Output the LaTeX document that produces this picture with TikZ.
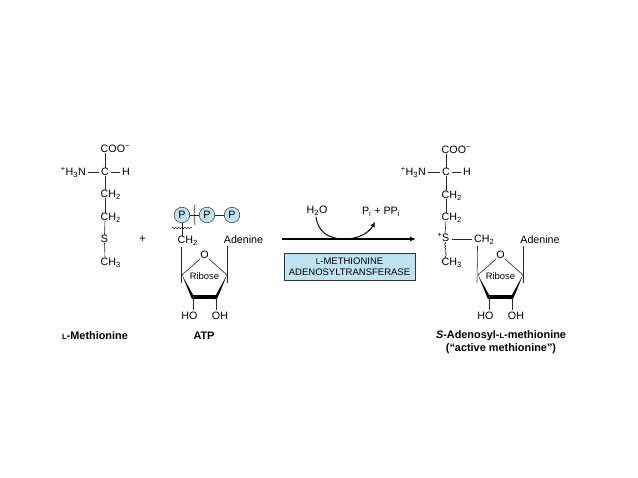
\documentclass[tikz,border=0pt]{standalone}
\usepackage{fontspec}
\setmainfont{Liberation Sans}
\usetikzlibrary{arrows.meta,decorations.pathmorphing}
\definecolor{paleblue}{HTML}{BFE3F3}
\newcommand{\sbs}[1]{\textsubscript{#1}}
\newcommand{\sps}[1]{\textsuperscript{#1}}
\newcommand{\smallL}{{\fontsize{8.3}{9}\selectfont L}}
\newcommand{\smallLb}{{\fontsize{7.6}{9}\selectfont L}}
\tikzset{
  lbl/.style={inner sep=0pt,text height=7.6pt,text depth=0pt,font=\fontsize{10.7}{12}\selectfont},
  lblw/.style={lbl,anchor=west},
  riblbl/.style={inner sep=0pt,font=\fontsize{9.4}{10}\selectfont},
  title/.style={inner sep=0pt,align=center,font=\fontsize{10.9}{12.6}\selectfont\bfseries},
  bond/.style={line width=0.6pt,draw=black!85},
  heavy/.style={fill=black,draw=none},
  phos/.style={circle,draw=black!80,fill=paleblue,line width=0.5pt,minimum size=15.5pt,inner sep=0pt,font=\fontsize{10.7}{12}\selectfont},
  wavy/.style={line width=0.4pt,decorate,decoration={snake,amplitude=0.7pt,segment length=3pt}},
  enz/.style={draw=black!80,fill=paleblue,line width=0.5pt,minimum width=131pt,minimum height=27pt,inner sep=0pt,align=center,font=\fontsize{9.5}{11}\selectfont},
}
% #1 name prefix, #2 x of the left ring vertex
\newcommand{\ribosering}[2]{
  \coordinate (#1l) at (#2,275);
  \coordinate (#1r) at ({#2+45},275);
  \coordinate (#1bl) at ({#2+11},297);
  \coordinate (#1br) at ({#2+34},297);
  \node[lbl] (#1O) at ({#2+22.5},255) {O};
  \node[riblbl] (#1t) at ({#2+22.5},276.5) {Ribose};
  \node[lbl] (#1HO) at ({#2+7.5},316) {HO};
  \node[lbl] (#1OH) at ({#2+38},316) {OH};
  \draw[bond] (#1O) -- (#1l);
  \draw[bond] (#1O) -- (#1r);
  \fill[heavy] (#1l) -- ([xshift=2.5pt,yshift=-2.2pt]#1bl) -- ([xshift=-1pt,yshift=-2.2pt]#1bl) -- cycle;
  \fill[heavy] (#1r) -- ([xshift=-2.5pt,yshift=-2.2pt]#1br) -- ([xshift=1pt,yshift=-2.2pt]#1br) -- cycle;
  \fill[heavy] ([xshift=-1pt,yshift=2.2pt]#1bl) rectangle ([xshift=1pt,yshift=-2.2pt]#1br);
  \draw[bond] (#1bl) -- ([yshift=-13pt]#1bl);
  \draw[bond] (#1br) -- ([yshift=-13pt]#1br);
}
\begin{document}
\begin{tikzpicture}[x=1pt,y=-1pt]
\useasboundingbox[fill=white] (0,0) rectangle (638,478);

% L-methionine
\node[lblw] (acoo) at (100.5,149) {COO\sps{−}};
\node[lbl] (ac) at (105,172) {C};
\node[lbl,anchor=east] (an) at (86,172) {\sps{+}H\sbs{3}N};
\node[lbl] (ah) at (126,172) {H};
\node[lblw] (am1) at (100.5,194) {CH\sbs{2}};
\node[lblw] (am2) at (100.5,217) {CH\sbs{2}};
\node[lbl] (as) at (104.5,239) {S};
\node[lblw] (am3) at (100.5,262) {CH\sbs{3}};
\draw[bond] ([xshift=4.5pt]acoo.south west) -- (ac.north);
\draw[bond] ([xshift=2pt]an.east) -- ([xshift=-1.5pt]ac.west);
\draw[bond] ([xshift=1.5pt]ac.east) -- ([xshift=-1.5pt]ah.west);
\draw[bond] (ac.south) -- ([xshift=4.5pt]am1.north west);
\draw[bond] ([xshift=4.5pt]am1.south west) -- ([xshift=4.5pt]am2.north west);
\draw[bond] ([xshift=4.5pt]am2.south west) -- (as.north);
\draw[bond] (as.south) -- ([xshift=4.5pt]am3.north west);
\node[inner sep=0pt,font=\fontsize{11.5}{13}\selectfont] (plus) at (142.5,239) {+};

% ATP
\node[phos] (p1) at (182,215) {P};
\node[phos] (p2) at (207,215) {P};
\node[phos] (p3) at (232,215) {P};
\draw[bond] (p1) -- (p2);
\draw[bond] (p2) -- (p3);
\node[lblw] (tch) at (177.5,240) {CH\sbs{2}};
\node[lbl] (tad) at (243.5,239.5) {Adenine};
\draw[bond] (p1) -- ([xshift=4.5pt]tch.north west);
\coordinate (cutva) at (194.5,205);
\coordinate (cutvb) at (194.5,225);
\coordinate (cutha) at (172,228);
\coordinate (cuthb) at (192,228);
\draw[wavy] (cutva) -- (cutvb);
\draw[wavy] (cutha) -- (cuthb);
\ribosering{t}{182}
\draw[bond] ([xshift=3.5pt,yshift=-3pt]tch.south west) -- ([xshift=-1pt,yshift=-8pt]tl);
\draw[bond] ([yshift=-3pt]tad.south -| tr) -- ([yshift=-8pt]tr);
\node[title] (tma) at (95,335.5) {\smallLb-Methionine};
\node[title] (tatp) at (204,335.5) {ATP};

% Reaction
\coordinate (rs) at (282,239);
\coordinate (re) at (416,239);
\draw[line width=1.5pt,-{Latex[length=6pt,width=5pt]}] (rs) -- (re);
\node[lbl] (wat) at (317,210) {H\sbs{2}O};
\node[lbl] (prod) at (381,211) {P\sbs{i} + PP\sbs{i}};
\draw[line width=1pt,-{Latex[length=5pt,width=5pt]}] (wat.south) ++(-1,3) .. controls (318,231) and (327,239) .. (345,239) .. controls (358,239) and (369,233) .. (375,222);
\node[enz] (box) at (349.5,266.5) {\smallL-METHIONINE\\ADENOSYLTRANSFERASE};

% S-adenosylmethionine
\node[lblw] (bcoo) at (441.5,150) {COO\sps{−}};
\node[lbl] (bc) at (446,172) {C};
\node[lbl,anchor=east] (bn) at (426,172) {\sps{+}H\sbs{3}N};
\node[lbl] (bh) at (467,172) {H};
\node[lblw] (bm1) at (441.5,195) {CH\sbs{2}};
\node[lblw] (bm2) at (441.5,217) {CH\sbs{2}};
\node[lbl,anchor=east] (bs) at (449.5,238) {\sps{+}S};
\node[lblw] (bm3) at (441.5,262) {CH\sbs{3}};
\node[lblw] (bch) at (474,239) {CH\sbs{2}};
\node[lbl] (bad) at (540,239.5) {Adenine};
\draw[bond] ([xshift=4.5pt]bcoo.south west) -- (bc.north);
\draw[bond] ([xshift=2pt]bn.east) -- ([xshift=-1.5pt]bc.west);
\draw[bond] ([xshift=1.5pt]bc.east) -- ([xshift=-1.5pt]bh.west);
\draw[bond] (bc.south) -- ([xshift=4.5pt]bm1.north west);
\draw[bond] ([xshift=4.5pt]bm1.south west) -- ([xshift=4.5pt]bm2.north west);
\draw[bond] ([xshift=4.5pt]bm2.south west) -- ([xshift=-4.5pt]bs.north east);
\draw[wavy] ([xshift=-4.5pt]bs.south east) -- ([xshift=4.5pt]bm3.north west);
\draw[bond] ([xshift=2pt]bs.east |- bch.west) -- ([xshift=-2pt]bch.west);
\ribosering{b}{478}
\draw[bond] ([xshift=3.5pt,yshift=-3pt]bch.south west) -- ([xshift=-1pt,yshift=-8pt]bl);
\draw[bond] ([yshift=-3pt]bad.south -| br) -- ([yshift=-8pt]br);
\node[title] (bti) at (501,342) {\textit{S}-Adenosyl-\smallLb-methionine\\(“active methionine”)};
\end{tikzpicture}
\end{document}
